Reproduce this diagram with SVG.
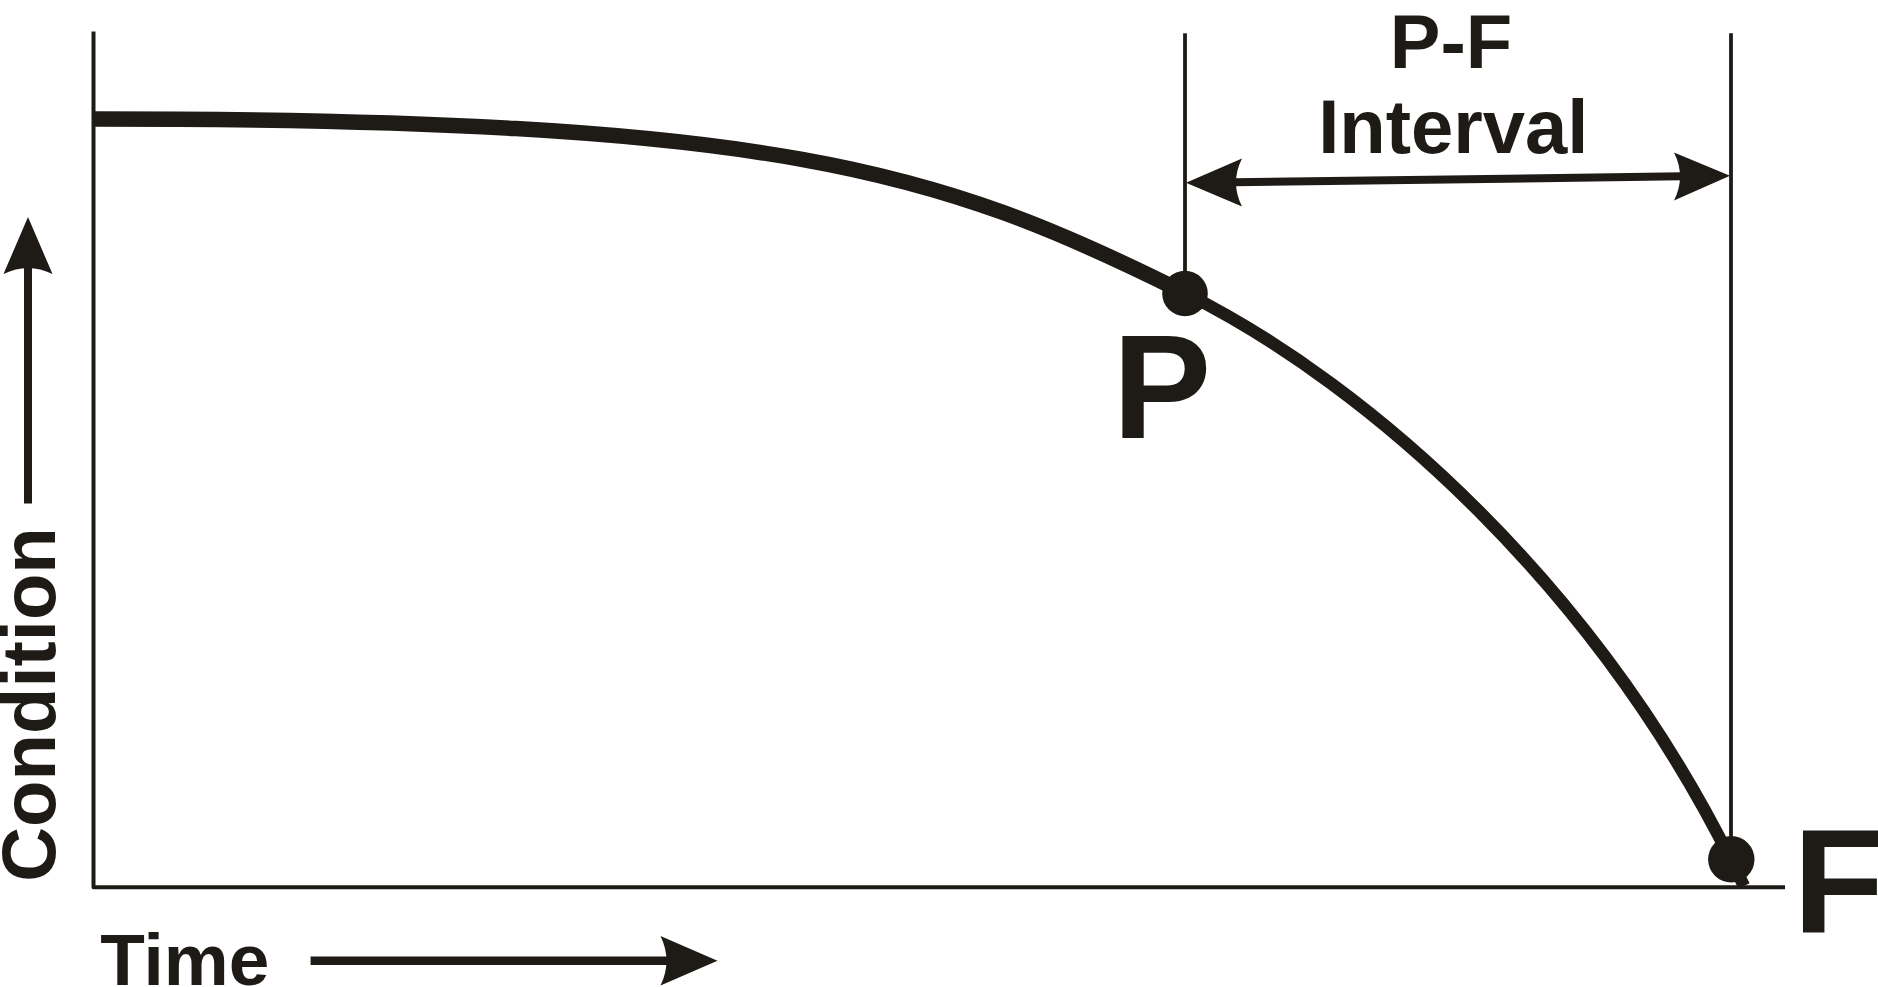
<svg xmlns="http://www.w3.org/2000/svg" width="1878" height="987" viewBox="0 0 1878 987">
<style>
.ink{fill:#1e1b16}
.ln{fill:none;stroke:#1e1b16;stroke-linecap:butt;stroke-linejoin:round}
.lbl{font-family:"Liberation Sans",Arial,Helvetica,sans-serif;font-weight:bold;fill:#1e1b16}
</style>
<rect width="1878" height="987" fill="#ffffff"/>
<g id="axes">
<path class="ln" stroke-width="4" d="M93.5,31.5 V887.3 H1785"/>
</g>
<g id="guides">
<line class="ln" stroke-width="3.8" x1="1185" y1="33.3" x2="1185" y2="285"/>
<line class="ln" stroke-width="3.8" x1="1731" y1="33.3" x2="1731" y2="850"/>
</g>
<g id="curve">
<path class="ln" stroke-width="15.5" d="M93.5,119 C773.5,119 935,168 1185,293"/>
<path class="ln" stroke-width="12.5" d="M1185,293 C1375,388 1596,590 1731,860 L1744,886"/>
</g>
<g id="node-P">
<circle class="ink" cx="1185" cy="293.5" r="22.8"/>
<text class="lbl" x="1112.5" y="438.4" font-size="148">P</text>
</g>
<g id="node-F">
<circle class="ink" cx="1731.3" cy="859.3" r="23.2"/>
<text class="lbl" x="1793" y="933.3" font-size="149">F</text>
</g>
<g id="connectors">
<g id="arrow-condition">
<line class="ln" stroke-width="8" x1="28" y1="503.6" x2="28" y2="262"/>
<path class="ink" d="M28,217 L52.5,274 Q28,262 3.5,274 Z"/>
</g>
<g id="arrow-time">
<line class="ln" stroke-width="8.5" x1="310.6" y1="960.8" x2="668" y2="960.8"/>
<path class="ink" d="M717.5,960.8 L660.5,936 Q672.5,960.8 660.5,985.6 Z"/>
</g>
<g id="arrow-interval">
<line class="ln" stroke-width="8" x1="1234" y1="182.3" x2="1682" y2="176.3"/>
<path class="ink" d="M1186,182.7 L1242,158.5 Q1230,182.5 1242,206.5 Z"/>
<path class="ink" d="M1730,175.7 L1674,152.5 Q1686,176.5 1674,200.5 Z"/>
</g>
</g>
<g id="labels">
<text class="lbl" x="1451" y="68.3" font-size="76" text-anchor="middle">P-F</text>
<text class="lbl" x="1453.3" y="153" font-size="76" text-anchor="middle">Interval</text>
<text class="lbl" x="100.3" y="984.5" font-size="73">Time</text>
<text class="lbl" font-size="76" text-anchor="middle" transform="translate(54.5,704.5) rotate(-90)">Condition</text>
</g>
</svg>
